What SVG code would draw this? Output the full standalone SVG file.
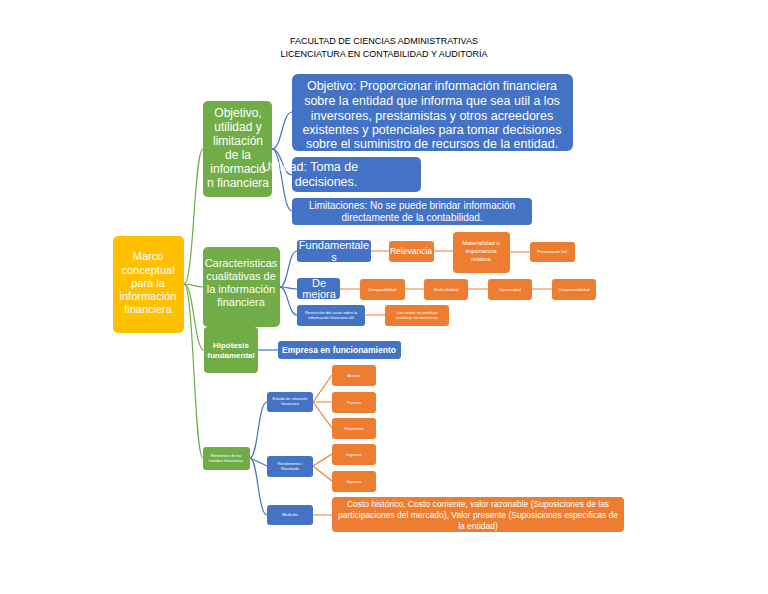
<svg xmlns="http://www.w3.org/2000/svg" width="768" height="594" viewBox="0 0 768 594">
<style>
text{font-family:"Liberation Sans",Arial,sans-serif;fill:#fff;text-anchor:middle}
.t{fill:#000;font-size:9px}
.y{fill:#FFC000}.g{fill:#70AD47}.b{fill:#4472C4}.o{fill:#ED7D31}
.cg{stroke:#70AD47;fill:none;stroke-width:1.2}.cb{stroke:#4472C4;fill:none;stroke-width:1.2}.co{stroke:#ED7D31;fill:none;stroke-width:1.2}
.s{font-size:4px}
</style>
<rect width="768" height="594" fill="#fff"/>
<text class="t" x="384" y="44">FACULTAD DE CIENCIAS ADMINISTRATIVAS</text>
<text class="t" x="384" y="57">LICENCIATURA EN CONTABILIDAD Y AUDITORÍA</text>
<g id="connectors">
<path class="cg" d="M184,284 C194,284 194,149 203,149"/>
<path class="cg" d="M184,284 C194,284 194,287 203,287"/>
<path class="cg" d="M184,284 C194,284 194,350 204,350"/>
<path class="cg" d="M184,284 C194,284 194,458 203,458"/>
<path class="cb" d="M272,149 C282,149 282,112 292,112"/>
<path class="cb" d="M272,149 C282,149 282,175 292,175"/>
<path class="cb" d="M272,149 C282,149 282,211 292,211"/>
<path class="cb" d="M280,287 C288,287 288,251 297,251"/>
<path class="cb" d="M280,287 C288,287 288,289 297,289"/>
<path class="cb" d="M280,287 C288,287 288,315 297,315"/>
<path class="cb" d="M258,350 L278,350"/>
<path class="cb" d="M250,458 C258,458 258,402 267,402"/>
<path class="cb" d="M250,458 L267,466"/>
<path class="cb" d="M250,458 C258,458 258,515 267,515"/>
<path class="co" d="M371,251 H389 M434,251 H453 M510,252 H530 M340,289 H360 M405,289 H424 M468,289 H488 M532,289 H552 M365,315 H385 M313,515 H332"/>
<path class="co" d="M313,402 L332,375 M313,402 H332 M313,402 L332,428 M313,466 L332,454 M313,466 L332,481"/>
</g>
<g id="marco"><rect class="y" x="113" y="236" width="71" height="97" rx="5"/><text font-size="11"><tspan x="148" y="260">Marco</tspan><tspan x="148" y="274">conceptual</tspan><tspan x="148" y="287">para la</tspan><tspan x="148" y="300">información</tspan><tspan x="148" y="313">financiera</tspan></text></g>
<g id="objetivo-g"><rect class="g" x="203" y="101" width="69" height="96" rx="5"/><text font-size="12"><tspan x="238" y="117">Objetivo,</tspan><tspan x="238" y="131">utilidad y</tspan><tspan x="238" y="145">limitación</tspan><tspan x="238" y="159">de la</tspan><tspan x="238" y="173">informació</tspan><tspan x="238" y="187">n financiera</tspan></text></g>
<g id="caract"><rect class="g" x="203" y="247" width="77" height="80" rx="5"/><text font-size="11"><tspan x="241" y="267">Caracteristicas</tspan><tspan x="241" y="280">cualitativas de</tspan><tspan x="241" y="293">la información</tspan><tspan x="241" y="306">financiera</tspan></text></g>
<g id="hipotesis"><rect class="g" x="204" y="327" width="54" height="46" rx="4"/><text font-size="8" font-weight="bold"><tspan x="231" y="348">Hipótesis</tspan><tspan x="231" y="358">fundamental</tspan></text></g>
<g id="elementos"><rect class="g" x="203" y="447" width="47" height="23" rx="3"/><text class="s"><tspan x="226" y="457">Elementos de los</tspan><tspan x="226" y="462">estados financieros</tspan></text></g>
<g id="obj"><rect class="b" x="292" y="74" width="281" height="77" rx="6"/><text font-size="12.5"><tspan x="432" y="90">Objetivo: Proporcionar información financiera</tspan><tspan x="432" y="105">sobre la entidad que informa que sea util a los</tspan><tspan x="432" y="120">inversores, prestamistas y otros acreedores</tspan><tspan x="432" y="134">existentes y potenciales para tomar decisiones</tspan><tspan x="432" y="148">sobre el suministro de recursos de la entidad.</tspan></text></g>
<g id="utilidad"><rect class="b" x="292" y="157" width="129" height="35" rx="5"/><text font-size="12.5" text-anchor="start"><tspan x="310" y="171">Utilidad: Toma de</tspan><tspan x="326" y="186">decisiones.</tspan></text></g>
<g id="limit"><rect class="b" x="292" y="198" width="240" height="27" rx="4"/><text font-size="10"><tspan x="412" y="209">Limitaciones: No se puede brindar información</tspan><tspan x="412" y="221">directamente de la contabilidad.</tspan></text></g>
<g id="fund"><rect class="b" x="297" y="240" width="74" height="22" rx="3"/><text font-size="11"><tspan x="334" y="249">Fundamentale</tspan><tspan x="334" y="261">s</tspan></text></g>
<g id="mejora"><rect class="b" x="297" y="278" width="43" height="21" rx="3"/><text font-size="11"><tspan x="319" y="287">De</tspan><tspan x="319" y="298">mejora</tspan></text></g>
<g id="restr"><rect class="b" x="297" y="305" width="68" height="21" rx="3"/><text class="s"><tspan x="331" y="314">Restricción del costo sobre la</tspan><tspan x="331" y="319">información financiera útil</tspan></text></g>
<g id="empresa"><rect class="b" x="278" y="341" width="123" height="18" rx="3"/><text font-size="8.5" font-weight="bold" x="339" y="353">Empresa en funcionamiento</text></g>
<g id="esf"><rect class="b" x="267" y="392" width="46" height="20" rx="3"/><text class="s"><tspan x="290" y="400">Estado de situación</tspan><tspan x="290" y="405">financiera</tspan></text></g>
<g id="rend"><rect class="b" x="267" y="456" width="46" height="21" rx="3"/><text class="s"><tspan x="290" y="465">Rendimiento /</tspan><tspan x="290" y="470">Resultado</tspan></text></g>
<g id="medicion"><rect class="b" x="267" y="505" width="46" height="20" rx="3"/><text class="s" x="290" y="516">Medición</text></g>
<g id="relev"><rect class="o" x="389" y="241" width="45" height="21" rx="3"/><text font-size="8.5" x="411" y="254">Relevancia</text></g>
<g id="mat"><rect class="o" x="453" y="232" width="57" height="41" rx="4"/><text font-size="6"><tspan x="481" y="245">Materialidad o</tspan><tspan x="481" y="253">importancia</tspan><tspan x="481" y="261">relativa</tspan></text></g>
<g id="pres"><rect class="o" x="530" y="242" width="45" height="20" rx="3"/><text class="s" x="552" y="253">Presentación fiel</text></g>
<g id="comp"><rect class="o" x="360" y="279" width="45" height="21" rx="3"/><text class="s" x="382" y="291">Comparabilidad</text></g>
<g id="verif"><rect class="o" x="424" y="279" width="44" height="21" rx="3"/><text class="s" x="446" y="291">Verificabilidad</text></g>
<g id="oport"><rect class="o" x="488" y="279" width="44" height="21" rx="3"/><text class="s" x="510" y="291">Oportunidad</text></g>
<g id="compr"><rect class="o" x="552" y="279" width="44" height="21" rx="3"/><text class="s" x="574" y="291">Comprensibilidad</text></g>
<g id="costos"><rect class="o" x="385" y="305" width="64" height="21" rx="3"/><text class="s"><tspan x="417" y="314">Los costos se justifican</tspan><tspan x="417" y="319">mediante los beneficios</tspan></text></g>
<g id="activos"><rect class="o" x="332" y="365" width="44" height="21" rx="3"/><text class="s" x="354" y="377">Activos</text></g>
<g id="pasivos"><rect class="o" x="332" y="392" width="44" height="21" rx="3"/><text class="s" x="354" y="404">Pasivos</text></g>
<g id="patrimonio"><rect class="o" x="332" y="418" width="44" height="21" rx="3"/><text class="s" x="354" y="430">Patrimonio</text></g>
<g id="ingresos"><rect class="o" x="332" y="444" width="44" height="21" rx="3"/><text class="s" x="354" y="456">Ingresos</text></g>
<g id="egresos"><rect class="o" x="332" y="471" width="44" height="21" rx="3"/><text class="s" x="354" y="483">Egresos</text></g>
<g id="costo"><rect class="o" x="332" y="497" width="292" height="35" rx="4"/><text font-size="8.5"><tspan x="478" y="507">Costo histórico, Costo corriente, valor razonable (Suposiciones de las</tspan><tspan x="478" y="518">participaciones del mercado), Valor presente (Suposiciones especificas de</tspan><tspan x="478" y="529">la entidad)</tspan></text></g>
</svg>
